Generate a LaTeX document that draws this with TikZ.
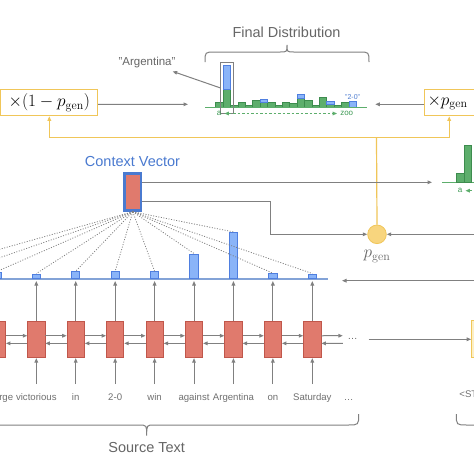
\documentclass[tikz,border=0pt]{standalone}
\usepackage[no-math]{fontspec}
\setmainfont{Liberation Sans}
\usepackage{amsmath}
\usetikzlibrary{arrows.meta}

\definecolor{linegray}{HTML}{808080}
\definecolor{textgray}{HTML}{666666}
\definecolor{wordgray}{HTML}{707070}
\definecolor{yline}{HTML}{F0C659}
\definecolor{ycirc}{HTML}{F8D57E}
\definecolor{decfill}{HTML}{FCEFC7}
\definecolor{ctxblue}{HTML}{4A7AD0}
\definecolor{barblue}{HTML}{8AB4F8}
\definecolor{barblueline}{HTML}{4F7FE0}
\definecolor{redfill}{HTML}{E07A6D}
\definecolor{redline}{HTML}{C0574B}
\definecolor{greenfill}{HTML}{5DAE6C}
\definecolor{greenline}{HTML}{3D8C4E}
\definecolor{greentext}{HTML}{3F9A55}

\tikzset{
  hidden/.style={rectangle, draw=redline, fill=redfill, line width=0.8pt, minimum width=17.3pt, minimum height=36.7pt, inner sep=0pt},
  att/.style={rectangle, draw=barblueline, fill=barblue, line width=0.8pt, minimum width=8.3pt, inner sep=0pt, anchor=south},
  word/.style={font=\fontsize{9.6}{11.5}\selectfont, text=wordgray, text height=7pt, text depth=2pt, inner sep=0pt, outer ysep=9pt, anchor=base},
  title/.style={font=\fontsize{14.5}{17}\selectfont, text=textgray},
  axislab/.style={font=\fontsize{8}{9}\selectfont, text=greentext, inner xsep=3pt},
  multbox/.style={rectangle, draw=yline, line width=1pt, minimum height=26.7pt, font=\fontsize{17}{20}\selectfont},
  conn/.style={draw=linegray, line width=1pt},
  yl/.style={draw=yline, line width=1.2pt},
  gline/.style={draw=greenfill, line width=1pt},
  greenbar/.style={draw=greenline, fill=greenfill, line width=0.6pt},
  bluebar/.style={draw=barblueline, fill=barblue, line width=0.6pt},
  dotline/.style={draw=linegray, line width=0.8pt, dash pattern=on 1pt off 1.6pt},
  bracepath/.style={draw=linegray, line width=1pt},
}

\begin{document}
\begin{tikzpicture}[x=1pt, y=-1pt, >={Triangle[length=4.5pt,width=3.6pt]}]
\useasboundingbox (0,0) rectangle (474,474);
\clip (0,0) rectangle (474,474);
\fill[white] (0,0) rectangle (474,474);

\node[title] (fdist) at (286.5,32.5) {Final Distribution};
\draw[bracepath] (205,62) .. controls (205,52) .. (215,52) -- (280,52) .. controls (287,52) .. (287,45) .. controls (287,52) .. (294,52) -- (359,52) .. controls (369,52) .. (369,62);

\foreach \x/\t in {215.7/102.7, 223.1/89.3, 230.5/105.5, 237.9/102.7, 245.3/105.3, 252.7/100.7, 260.1/102.7, 267.5/102.7, 274.9/105.3, 282.3/102.7, 289.7/103.3, 297.1/98.7, 304.5/100.7, 311.9/105.3, 319.3/97.7, 326.7/104, 334.1/105.3, 341.5/102.3}
  \draw[greenbar] (\x,\t) rectangle (\x+7.4,107);
\foreach \x/\t/\b in {223.1/65/89.3, 260.1/99/102.7, 297.1/94/98.7, 326.7/101/104, 348.9/101.7/107}
  \draw[bluebar] (\x,\t) rectangle (\x+7.4,\b);
\draw[gline] (205,107) -- (367,107);
\node[draw=linegray, line width=0.8pt, minimum width=12.6pt, minimum height=50.3pt, inner sep=0pt] (hl) at (227,87.9) {};
\node[font=\fontsize{7}{8}\selectfont, text=ctxblue] (lab20) at (352.6,96.7) {"2-0"};
\node[axislab] (fa) at (219,113.5) {a};
\node[axislab] (fz) at (346.7,113.5) {zoo};
\draw[gline, dash pattern=on 2.5pt off 2pt, <->] (fa.east) -- (fz.west);

\node[font=\fontsize{11.5}{13}\selectfont, text=textgray] (arg) at (147,62.5) {"Argentina"};
\draw[conn,->] (hl.west) -- (arg);

\node[multbox, minimum width=96.8pt] (lbox) at (49.3,102.4) {$\times(1-p_{\mathrm{gen}})$};
\node[multbox, anchor=west, text width=50pt, align=left, inner xsep=3.3pt] (rbox) at (423.7,102.5) {$\times p_{\mathrm{gen}}$};
\coordinate (fdl) at (188,104.3);
\coordinate (fdr) at (375.3,104.3);
\draw[conn,->] ([yshift=-1.9pt]lbox.east) -- (fdl);
\draw[conn,->] ([yshift=-1.8pt]rbox.west) -- (fdr);

\node[circle, draw=yline, fill=ycirc, line width=0.8pt, minimum size=18.6pt, inner sep=0pt] (pgen) at (377,234.3) {};
\node[font=\fontsize{17}{20}\selectfont, text=textgray] (pgenlab) at (377,256.5) {$p_{\mathrm{gen}}$};
\coordinate (yj) at (376.5,137.7);
\draw[yl] (pgen.north) -- (yj);
\draw[yl,->] (yj) -| (lbox.south);
\draw[yl,->] (yj) -| ([xshift=-3.3pt]rbox.south);

\draw[gline] (442,182.3) -- (480,182.3);
\draw[greenbar] (456.5,173.3) rectangle (464,182.3);
\draw[greenbar] (464,145) rectangle (471.6,182.3);
\node[axislab] (va) at (460,190.7) {a};
\coordinate (vz) at (500,190.7);
\draw[gline, dash pattern=on 2.5pt off 2pt, <-] (va.east) -- (vz);

\node[title, text=ctxblue] (ctxt) at (132.5,161.7) {Context Vector};
\node[rectangle, draw=ctxblue, fill=redfill, line width=2.5pt, minimum width=16.5pt, minimum height=37pt, inner sep=0pt] (cv) at (132.8,192) {};
\coordinate (vocab) at (432,182.3);
\draw[conn,->] ([yshift=9.7pt]cv.east) -- (vocab);
\coordinate (bend) at (270.3,201);
\draw[conn,->] ([yshift=-9pt]cv.east) -- (bend) |- (pgen.west);
\coordinate (decp) at (480,234.3);
\draw[conn,->] (decp) -- (pgen.east);

\draw[draw=barblue!85!black!90, line width=1.5pt] (-20,279) -- (328.3,279);
\coordinate (attsrc) at (480,280.7);
\coordinate (attend) at (342,280.7);
\draw[conn,->] (attsrc) -- (attend);

\foreach \n/\x/\h/\w in {m/-3.13/6.7/emerge, 0/36.3/4.7/victorious, 1/75.73/7/in, 2/115.16/7/2-0, 3/154.59/7/win, 4/194.02/24.7/against, 5/233.45/46.3/Argentina, 6/272.88/5/on, 7/312.31/4.7/Saturday}{
  \node[hidden] (e\n) at (\x,339.35) {};
  \node[att, minimum height=\h pt] (a\n) at (\x,279) {};
  \node[word] (w\n) at (\x,400) {\w};
  \draw[conn,->] (w\n.north) -- (e\n.south);
  \draw[conn,->,shorten >=2pt] (e\n.north) -- (a\n.south);
}
\foreach \a/\b in {m/0,0/1,1/2,2/3,3/4,4/5,5/6,6/7}{
  \draw[conn,->] ([yshift=3.6pt]e\a.east) -- ([yshift=3.6pt]e\b.west);
  \draw[conn,->] ([yshift=-4pt]e\b.west) -- ([yshift=-4pt]e\a.east);
}
\coordinate (am2) at (-42.6,272.3);
\coordinate (am3) at (-82,272.3);
\foreach \n in {m,0,1,2,3,4,5,6,7}
  \draw[dotline] (cv.south) -- (a\n.north);
\draw[dotline] (cv.south) -- (am2);
\draw[dotline] (cv.south) -- (am3);

\node[word] (wdots) at (348.7,400) {…};
\node[text=textgray, font=\fontsize{10}{12}\selectfont, inner xsep=4.7pt] (dots) at (352.7,339.3) {…};
\draw[conn,->] ([yshift=3.6pt]e7.east) -- ([yshift=3.6pt]dots.west);
\draw[conn,->] ([yshift=-4pt]dots.west) -- ([yshift=-4pt]e7.east);
\node[rectangle, draw=yline, fill=decfill, line width=1pt, minimum width=17.3pt, minimum height=37pt, inner sep=0pt] (dec) at (480.3,339.3) {};
\draw[conn,->,shorten <=6pt] (dots.east) -- (dec.west);
\node[word] (wstart) at (480.3,397.5) {<START>};
\draw[conn,->] (wstart.north) -- (dec.south);

\node[title] (src) at (146.7,447.8) {Source Text};
\draw[bracepath] (-65.3,414) .. controls (-65.3,425) .. (-55,425) -- (139,425) .. controls (146.7,425) .. (146.7,435.7) .. controls (146.7,425) .. (154,425) -- (348,425) .. controls (358.7,425) .. (358.7,414);
\draw[bracepath] (456.3,414) .. controls (456.3,425) .. (467,425) -- (500,425);
\end{tikzpicture}
\end{document}
